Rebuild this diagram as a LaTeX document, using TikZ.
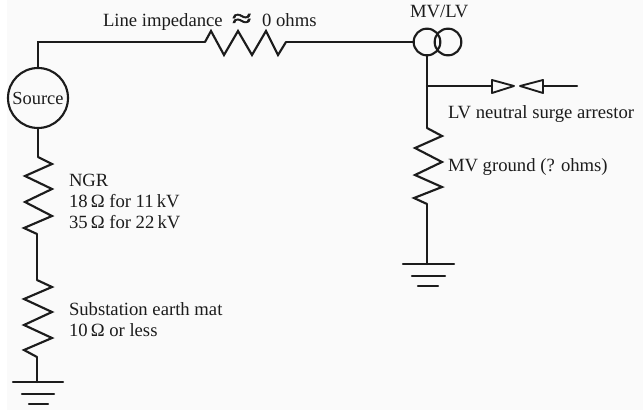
\documentclass[tikz,border=0pt]{standalone}
\usepackage{fontspec}
\usepackage{graphicx}
\setmainfont{Liberation Serif}
\definecolor{ink}{HTML}{1C1C1C}
\definecolor{paper}{HTML}{FAFAFA}
\tikzset{
  wire/.style={draw=ink,line width=1.75pt,line join=miter,line cap=round},
  zig/.style={draw=ink,line width=1.6pt,line join=miter},
  thinwire/.style={draw=ink,line width=1.4pt,line join=round},
  lbl/.style={inner sep=0pt,outer sep=0pt,anchor=base west,text=ink,font=\fontsize{14pt}{15.4pt}\selectfont,align=left},
  ring/.style={circle,draw=ink,line width=1.6pt,inner sep=0pt,minimum size=#1}
}
\begin{document}
\begin{tikzpicture}[x=0.75pt,y=-0.75pt]
\useasboundingbox (0,0) rectangle (643,411);
\fill[white] (0,0) rectangle (643,411);
\fill[paper] (7,0) rectangle (643,410);

% source and transformer
\node[ring=45pt,font=\fontsize{13.8pt}{16pt}\selectfont,text=ink] (src) at (38,98) {Source};
\node[ring=20pt] (tl) at (427,42) {};
\node[ring=20pt] (tr) at (448,42) {};

% named junctions
\coordinate (corner) at (38,42);
\coordinate (r1a) at (205,42);
\coordinate (r1b) at (286,42);
\coordinate (r2a) at (38,157);
\coordinate (r2b) at (37,234);
\coordinate (r3a) at (37,280);
\coordinate (r3b) at (37,357);
\coordinate (g1) at (37,382);
\coordinate (g1l) at (13,382);
\coordinate (g1r) at (63,382);
\coordinate (g1bl) at (22,394);
\coordinate (g1br) at (54,394);
\coordinate (g1cl) at (29,404);
\coordinate (g1cr) at (48,404);
\coordinate (tap) at (427,86);
\coordinate (r4a) at (427,128);
\coordinate (r4b) at (427,204);
\coordinate (g2) at (427,264);
\coordinate (g2l) at (403,264);
\coordinate (g2r) at (454,264);
\coordinate (g2bl) at (412,276);
\coordinate (g2br) at (445,276);
\coordinate (g2cl) at (418,286);
\coordinate (g2cr) at (438,286);
\coordinate (sa) at (492,86);
\coordinate (sb) at (543,86);
\coordinate (send) at (577,86);

% connectors
\draw[wire] (src.north) -- (corner) -- (r1a);
\draw[wire] (r1b) -- (tl.west);
\draw[wire] (src.south) -- (r2a);
\draw[wire] (r2b) -- (r3a);
\draw[wire] (r3b) -- (g1);
\draw[wire] (tl.south) -- (r4a);
\draw[wire] (r4b) -- (g2);
\draw[wire] (tap) -- (sa);
\draw[wire] (sb) -- (send);

% resistors
\draw[zig] (r1a) -- (211,31) -- (224,55) -- (238,31) -- (252,55) -- (266,31) -- (278,55) -- (r1b);
\draw[zig] (r2a) -- (52,164) -- (25,176) -- (52,189) -- (25,202) -- (52,216) -- (24,228) -- (r2b);
\draw[zig] (r3a) -- (52,287) -- (24,299) -- (52,312) -- (24,325) -- (52,338) -- (24,350) -- (r3b);
\draw[zig] (r4a) -- (442,136) -- (415,148) -- (442,162) -- (415,175) -- (442,187) -- (414,198) -- (r4b);

% grounds
\draw[wire] (g1l) -- (g1r);
\draw[wire] (g1bl) -- (g1br);
\draw[wire] (g1cl) -- (g1cr);
\draw[wire] (g2l) -- (g2r);
\draw[wire] (g2bl) -- (g2br);
\draw[wire] (g2cl) -- (g2cr);

% surge arrestor
\draw[thinwire] (sa) -- (492,80) -- (514,86) -- (492,93) -- cycle;
\draw[thinwire] (sb) -- (543,80) -- (520,86) -- (543,93) -- cycle;

% labels
\node[lbl] (lineimp) at (103,26.5) {Line impedance\hspace{7pt}\scalebox{1.9}[1.3]{\addfontfeature{FakeBold=2.5}≈}\hspace{8pt}0 ohms};
\node[lbl] (mvlv) at (410,17) {MV/LV};
\node[lbl] (arrestor) at (448,118) {LV neutral surge arrestor};
\node[lbl] (mvground) at (448,171) {MV ground (? ohms)};
\node[lbl] (ngr) at (69,228) {NGR\\18\,Ω for 11\,kV\\35\,Ω for 22\,kV};
\node[lbl] (mat) at (69,336) {Substation earth mat\\10\,Ω or less};
\end{tikzpicture}
\end{document}
